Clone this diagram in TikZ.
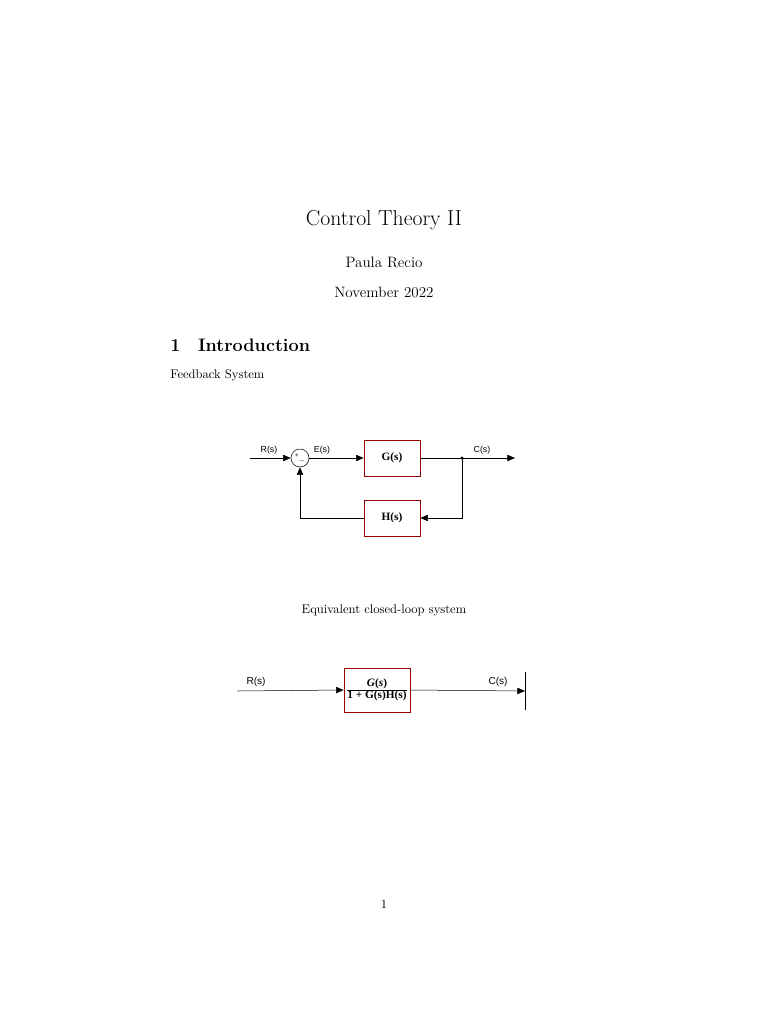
\documentclass[tikz,border=0pt]{standalone}
\usepackage{fontspec}
\newfontfamily\tnr{Liberation Serif}
\newfontfamily\arial{Liberation Sans}
\usetikzlibrary{arrows.meta}
\begin{document}
\begin{tikzpicture}[x=0.797pt,y=-0.797pt,
  blk/.style={draw=red!60!black,fill=white,line width=0.6pt,minimum width=56*0.797pt,minimum height=36*0.797pt,inner sep=0pt,font=\tnr\bfseries\small, drop shadow/.style={}},
  lbl/.style={font=\arial\scriptsize,inner sep=1pt},
  sig/.style={line width=0.4pt,-{Triangle[length=6pt,width=5pt]}},
  ln/.style={line width=0.4pt}]
\useasboundingbox[fill=white] (0,0) rectangle (768,1024);
\node (title) at (384,220) {\LARGE Control Theory II};
\node (auth) at (384,262) {\large Paula Recio};
\node (date) at (384,292) {\large November 2022};
\node[anchor=west] (sec) at (166,345) {\Large\bfseries 1\hspace{14pt}Introduction};
\node[anchor=west] (fs) at (166,375) {Feedback System};
% feedback diagram
\coordinate (rin) at (250,458);
\node[draw,circle,minimum size=18*0.797pt,inner sep=0pt,line width=0.4pt] (sum) at (300,458) {};
\node[font=\arial\tiny,inner sep=0pt] at (297,456) {+};
\node[font=\arial\tiny,inner sep=0pt] at (302,462) {--};
\node[blk] (G) at (392,458) {G(s)};
\node[blk] (H) at (392,518) {H(s)};
\fill (462,458) circle (1.6) coordinate (br);
\coordinate (cout) at (515,458);
\draw[sig] (rin) -- (sum.west);
\draw[sig] (sum.east) -- (G.west);
\draw[ln] (G.east) -- (br);
\draw[sig] (br) -- (cout);
\draw[sig] (br) |- (H.east);
\draw[sig] (H.west) -| (sum.south);
\node[lbl] at (269,450) {R(s)};
\node[lbl] at (322,450) {E(s)};
\node[lbl] at (482,450) {C(s)};
\node (eq) at (384,610) {Equivalent closed-loop system};
% closed-loop
\coordinate (r2) at (237,691);
\node[blk,minimum width=66*0.797pt,minimum height=44*0.797pt] (F) at (377,690) {\tnr\small$\frac{\textbf{\textit{G}}\textbf{(\textit{s})}}{\textbf{1 + G(s)H(s)}}$};
\coordinate (c2) at (525,691);
\draw[sig] (r2) -- (F.west);
\draw[sig] (F.east) -- (c2);
\draw[ln] (525,672) -- (525,710);
\node[lbl,font=\arial\footnotesize] at (256,682) {R(s)};
\node[lbl,font=\arial\footnotesize] at (498,682) {C(s)};
\node (pg) at (384,904) {1};
\end{tikzpicture}
\end{document}
